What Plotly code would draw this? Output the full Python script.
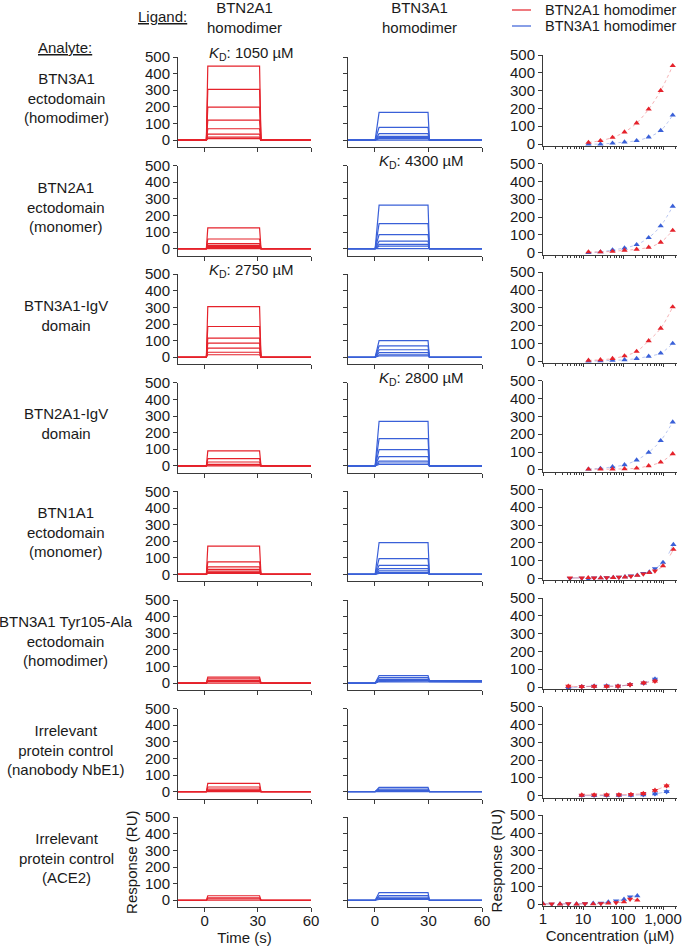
import plotly.graph_objects as go

W, H = 685, 948
RED = "#e5222b"
BLUE = "#3a60d8"
AXC = "#3a3a3a"
FONT = "Liberation Sans, Arial, sans-serif"

# ---------------- sensorgram data (left = BTN2A1 ligand, middle = BTN3A1 ligand)
# time keypoints of an injection cycle (s)
t_red = [-15, 1.0, 1.8, 31.0, 31.8, 60]
t_blue = [-15, 0.2, 2.4, 29.8, 30.6, 60]

# plateau responses (RU) of each analyte concentration
sg_red_1 = [445, 305, 198, 120, 68, 36, 18, 8]
sg_blue_1 = [166, 76, 38, 22, 14, 8, 3]
sg_red_2 = [125, 58, 30, 19, 13, 7, 4]
sg_blue_2 = [262, 150, 84, 45, 26, 15, 4]
sg_red_3 = [305, 185, 115, 85, 55, 30, 15]
sg_blue_3 = [100, 68, 45, 28, 15, 8]
sg_red_4 = [90, 43, 23, 9, 6, 4]
sg_blue_4 = [268, 164, 98, 55, 28, 17, 8]
sg_red_5 = [170, 75, 45, 30, 20, 12, 6]
sg_blue_5 = [192, 95, 55, 35, 22, 12, 6]
sg_red_6 = [35, 25, 15, 8, 4]
sg_blue_6 = [45, 32, 22, 14, 8]
sg_blue_6_after = [15, 12, 10, 8, 5]
sg_red_7 = [50, 28, 15, 8, 4]
sg_blue_7 = [25, 15, 8, 4]
sg_red_8 = [27, 15, 8, 4]
sg_blue_8 = [46, 28, 18, 10, 5]

# ---------------- steady-state data (right column)
conc_1 = [13.7, 27.3, 54.7, 109, 219, 438, 875, 1750]
ss_red_1 = [9, 19, 37, 67, 118, 196, 300, 440]
ss_blue_1 = [0, 0, 5, 11, 19, 39, 76, 162]
conc_2 = [13.7, 27.3, 54.7, 109, 219, 438, 875, 1750]
ss_red_2 = [4, 4, 7, 13, 19, 30, 58, 125]
ss_blue_2 = [0, 4, 15, 26, 45, 84, 150, 260]
conc_3 = [13.7, 27.3, 54.7, 109, 219, 438, 875, 1750]
ss_red_3 = [5, 8, 15, 30, 55, 115, 185, 305]
ss_blue_3 = [0, 2, 5, 8, 15, 28, 45, 100]
conc_4 = [13.7, 27.3, 54.7, 109, 219, 438, 875, 1750]
ss_red_4 = [4, 4, 4, 6, 9, 23, 43, 90]
ss_blue_4 = [4, 8, 17, 28, 55, 98, 164, 268]
conc_5_dn = [4.7, 9.3, 19, 39, 79, 158, 322, 630]
conc_5_up = [13.5, 27.7, 57, 112, 228, 455, 1000, 1820]
ss_red_5_dn = [3, 3, 3, 5, 7, 13, 25, 42]
ss_red_5_up = [4, 3, 5, 8, 17, 33, 70, 163]
ss_blue_5_dn = [1, 2, 3, 4, 7, 14, 28, 55]
ss_blue_5_up = [-8, 3, 5, 9, 18, 36, 90, 190]
conc_6 = [4.3, 9.3, 19, 39, 75, 150, 330, 630]
ss_red_6 = [5, 2, 4, 4, 5, 13, 23, 33]
ss_blue_6 = [-8, 2, 5, 6, 5, 13, 22, 45]
conc_7 = [9.3, 19, 39, 79, 158, 322, 630, 1230]
ss_red_7 = [3, 4, 4, 5, 7, 12, 30, 55]
ss_blue_7 = [0, 0, 1, 1, 2, 5, 10, 22]
conc_8 = [1.0, 1.65, 2.66, 4.3, 6.9, 11.2, 18, 28, 43, 67, 106, 150, 228]
ss_red_8 = [2, 2, 1, 3, 1, 3, 2, 4, 6, 9, 13, 28, 23]
ss_blue_8 = [3, 1, 2, 2, 2, 3, 5, 6, 13, 19, 28, 42, 47]

row_labels = [
    "BTN3A1<br>ectodomain<br>(homodimer)",
    "BTN2A1<br>ectodomain<br>(monomer)",
    "BTN3A1-IgV<br>domain",
    "BTN2A1-IgV<br>domain",
    "BTN1A1<br>ectodomain<br>(monomer)",
    "BTN3A1 Tyr105-Ala<br>ectodomain<br>(homodimer)",
    "Irrelevant<br>protein control<br>(nanobody NbE1)",
    "Irrelevant<br>protein control<br>(ACE2)",
]
kd_labels = ["1050", "4300", "2750", "2800"]
kd_rows = [0, 1, 2, 3]
kd_cols = [0, 1, 0, 1]
x_ticks_time = [0, 30, 60]
y_ticks = [0, 100, 200, 300, 400, 500]
conc_ticks = [1, 10, 100, 1000]
conc_ticktext = ["1", "10", "100", "1,000"]
legend_names = ["BTN2A1 homodimer", "BTN3A1 homodimer"]

sg_red = [sg_red_1, sg_red_2, sg_red_3, sg_red_4, sg_red_5, sg_red_6, sg_red_7, sg_red_8]
sg_blue = [sg_blue_1, sg_blue_2, sg_blue_3, sg_blue_4, sg_blue_5, sg_blue_6, sg_blue_7, sg_blue_8]

# ---------------- geometry (pixels)
ROW_TOP = [57 + 108.6 * i for i in range(8)]
COLS = [(178, 311), (348, 482), (543, 677)]


def fx(px):
    return px / W


def fy(py):
    return 1 - py / H


fig = go.Figure()


def ax(r, c):
    k = r * 3 + c + 1
    return ("x" if k == 1 else f"x{k}"), ("y" if k == 1 else f"y{k}")


# sensorgrams
for r in range(8):
    xa, ya = ax(r, 0)
    for p in sg_red[r]:
        fig.add_trace(go.Scatter(x=t_red, y=[0, 0, p, p, 0, 0], mode="lines",
                                 line=dict(color=RED, width=1.2), xaxis=xa, yaxis=ya,
                                 showlegend=False, hoverinfo="skip"))
    xa, ya = ax(r, 1)
    for i, p in enumerate(sg_blue[r]):
        after = sg_blue_6_after[i] if r == 5 else 0
        fig.add_trace(go.Scatter(x=t_blue, y=[0, 0, p, p, after, after], mode="lines",
                                 line=dict(color=BLUE, width=1.2), xaxis=xa, yaxis=ya,
                                 showlegend=False, hoverinfo="skip"))

# steady-state panels
ss_sets = [
    [(conc_1, ss_red_1, "triangle-up")], [(conc_1, ss_blue_1, "triangle-up")],
    [(conc_2, ss_red_2, "triangle-up")], [(conc_2, ss_blue_2, "triangle-up")],
    [(conc_3, ss_red_3, "triangle-up")], [(conc_3, ss_blue_3, "triangle-up")],
    [(conc_4, ss_red_4, "triangle-up")], [(conc_4, ss_blue_4, "triangle-up")],
    [(conc_5_dn, ss_red_5_dn, "triangle-down"), (conc_5_up, ss_red_5_up, "triangle-up")],
    [(conc_5_dn, ss_blue_5_dn, "triangle-down"), (conc_5_up, ss_blue_5_up, "triangle-up")],
    [(conc_6, ss_red_6, "triangle-up"), (conc_6, ss_red_6, "triangle-down")],
    [(conc_6, ss_blue_6, "triangle-up"), (conc_6, ss_blue_6, "triangle-down")],
    [(conc_7, ss_red_7, "triangle-up"), (conc_7, ss_red_7, "triangle-down")],
    [(conc_7, ss_blue_7, "triangle-up"), (conc_7, ss_blue_7, "triangle-down")],
    [(conc_8[0::2], ss_red_8[0::2], "triangle-up"), (conc_8[1::2], ss_red_8[1::2], "triangle-down")],
    [(conc_8[0::2], ss_blue_8[0::2], "triangle-up"), (conc_8[1::2], ss_blue_8[1::2], "triangle-down")],
]

for r in range(8):
    xa, ya = ax(r, 2)
    for color, sets in ((BLUE, ss_sets[2 * r + 1]), (RED, ss_sets[2 * r])):
        pts = sorted({(c, v) for cs, vs, _ in sets for c, v in zip(cs, vs)})
        fig.add_trace(go.Scatter(x=[p[0] for p in pts], y=[p[1] for p in pts], mode="lines",
                                 line=dict(color=color, width=0.8,
                                           dash="dot" if r < 4 else "dash", shape="spline"),
                                 opacity=0.45, xaxis=xa, yaxis=ya, showlegend=False,
                                 hoverinfo="skip"))
        for cs, vs, sym in sets:
            fig.add_trace(go.Scatter(x=cs, y=vs, mode="markers",
                                     marker=dict(symbol=sym, size=5.5, color=color),
                                     xaxis=xa, yaxis=ya, showlegend=False))

layout = dict(
    width=W, height=H, margin=dict(l=0, r=0, t=0, b=0),
    paper_bgcolor="white", plot_bgcolor="white",
    font=dict(family=FONT, size=15, color="#1a1a1a"),
    showlegend=False,
)

common = dict(showline=True, linecolor=AXC, linewidth=1, ticks="outside", ticklen=4,
              tickcolor=AXC, tickwidth=1, showgrid=False, zeroline=False,
              tickfont=dict(size=15, family=FONT, color="#1a1a1a"), automargin=False)

for r in range(8):
    top = ROW_TOP[r]
    for c in range(3):
        k = r * 3 + c + 1
        xk = "xaxis" if k == 1 else f"xaxis{k}"
        yk = "yaxis" if k == 1 else f"yaxis{k}"
        ya_name = "y" if k == 1 else f"y{k}"
        xa_name = "x" if k == 1 else f"x{k}"
        x0, x1 = COLS[c]
        if c < 2:
            xd = dict(common, domain=[fx(x0), fx(x1)], range=[-15, 60], tickvals=x_ticks_time,
                      showticklabels=(r == 7), anchor=ya_name)
            yd = dict(common, domain=[fy(top + 90), fy(top)], range=[-42, 500], tickvals=y_ticks,
                      showticklabels=(c == 0), anchor=xa_name)
        else:
            xd = dict(common, type="log", domain=[fx(x0), fx(x1)], range=[0, 3.35],
                      tickvals=conc_ticks, ticktext=conc_ticktext, showticklabels=(r == 7),
                      anchor=ya_name, ticklen=3,
                      minor=dict(ticks="outside", ticklen=2, tickcolor=AXC,
                                 tickvals=[m * 10 ** e for e in range(4) for m in range(2, 10)]))
            yd = dict(common, domain=[fy(top + 89), fy(top - 2)], range=[-11, 500], tickvals=y_ticks,
                      showticklabels=True, anchor=xa_name)
        if r == 7:
            xd["ticklabelstandoff"] = -4
            if c == 0:
                xd["title"] = dict(text="Time (s)", standoff=2, font=dict(size=15))
                yd["title"] = dict(text="Response (RU)", standoff=3, font=dict(size=15))
            if c == 2:
                xd["title"] = dict(text="Concentration (\u00b5M)", standoff=2, font=dict(size=15))
                yd["title"] = dict(text="Response (RU)", standoff=3, font=dict(size=15))
        layout[xk] = xd
        layout[yk] = yd

annotations = []


def txt(text, x, y, size=15, xanchor="center", yanchor="middle", align="center"):
    annotations.append(dict(text=text, x=fx(x), y=fy(y), xref="paper", yref="paper",
                            showarrow=False, xanchor=xanchor, yanchor=yanchor, align=align,
                            font=dict(size=size, family=FONT, color="#1a1a1a")))


txt("<u>Ligand:</u>", 162, 16)
txt("BTN2A1<br>homodimer", 244, 18)
txt("BTN3A1<br>homodimer", 419, 18)
txt("<u>Analyte:</u>", 65, 47)
for r, lab in enumerate(row_labels):
    txt(lab, 66, ROW_TOP[r] + 41)

kd_x = [251, 421]
for i, kd in enumerate(kd_labels):
    txt(f"<i>K</i><sub>D</sub>: {kd} \u00b5M", kd_x[kd_cols[i]], ROW_TOP[kd_rows[i]] - 4)

# legend
shapes = []
for i, (name, color) in enumerate(zip(legend_names, [RED, BLUE])):
    yy = 10 + 16 * i
    shapes.append(dict(type="line", xref="paper", yref="paper", x0=fx(512), x1=fx(531),
                       y0=fy(yy), y1=fy(yy), line=dict(color=color, width=1.2)))
    txt(name, 543, yy, size=14.5, xanchor="left")

layout["annotations"] = annotations
layout["shapes"] = shapes
fig.update_layout(**layout)
fig.write_html("out.html")
